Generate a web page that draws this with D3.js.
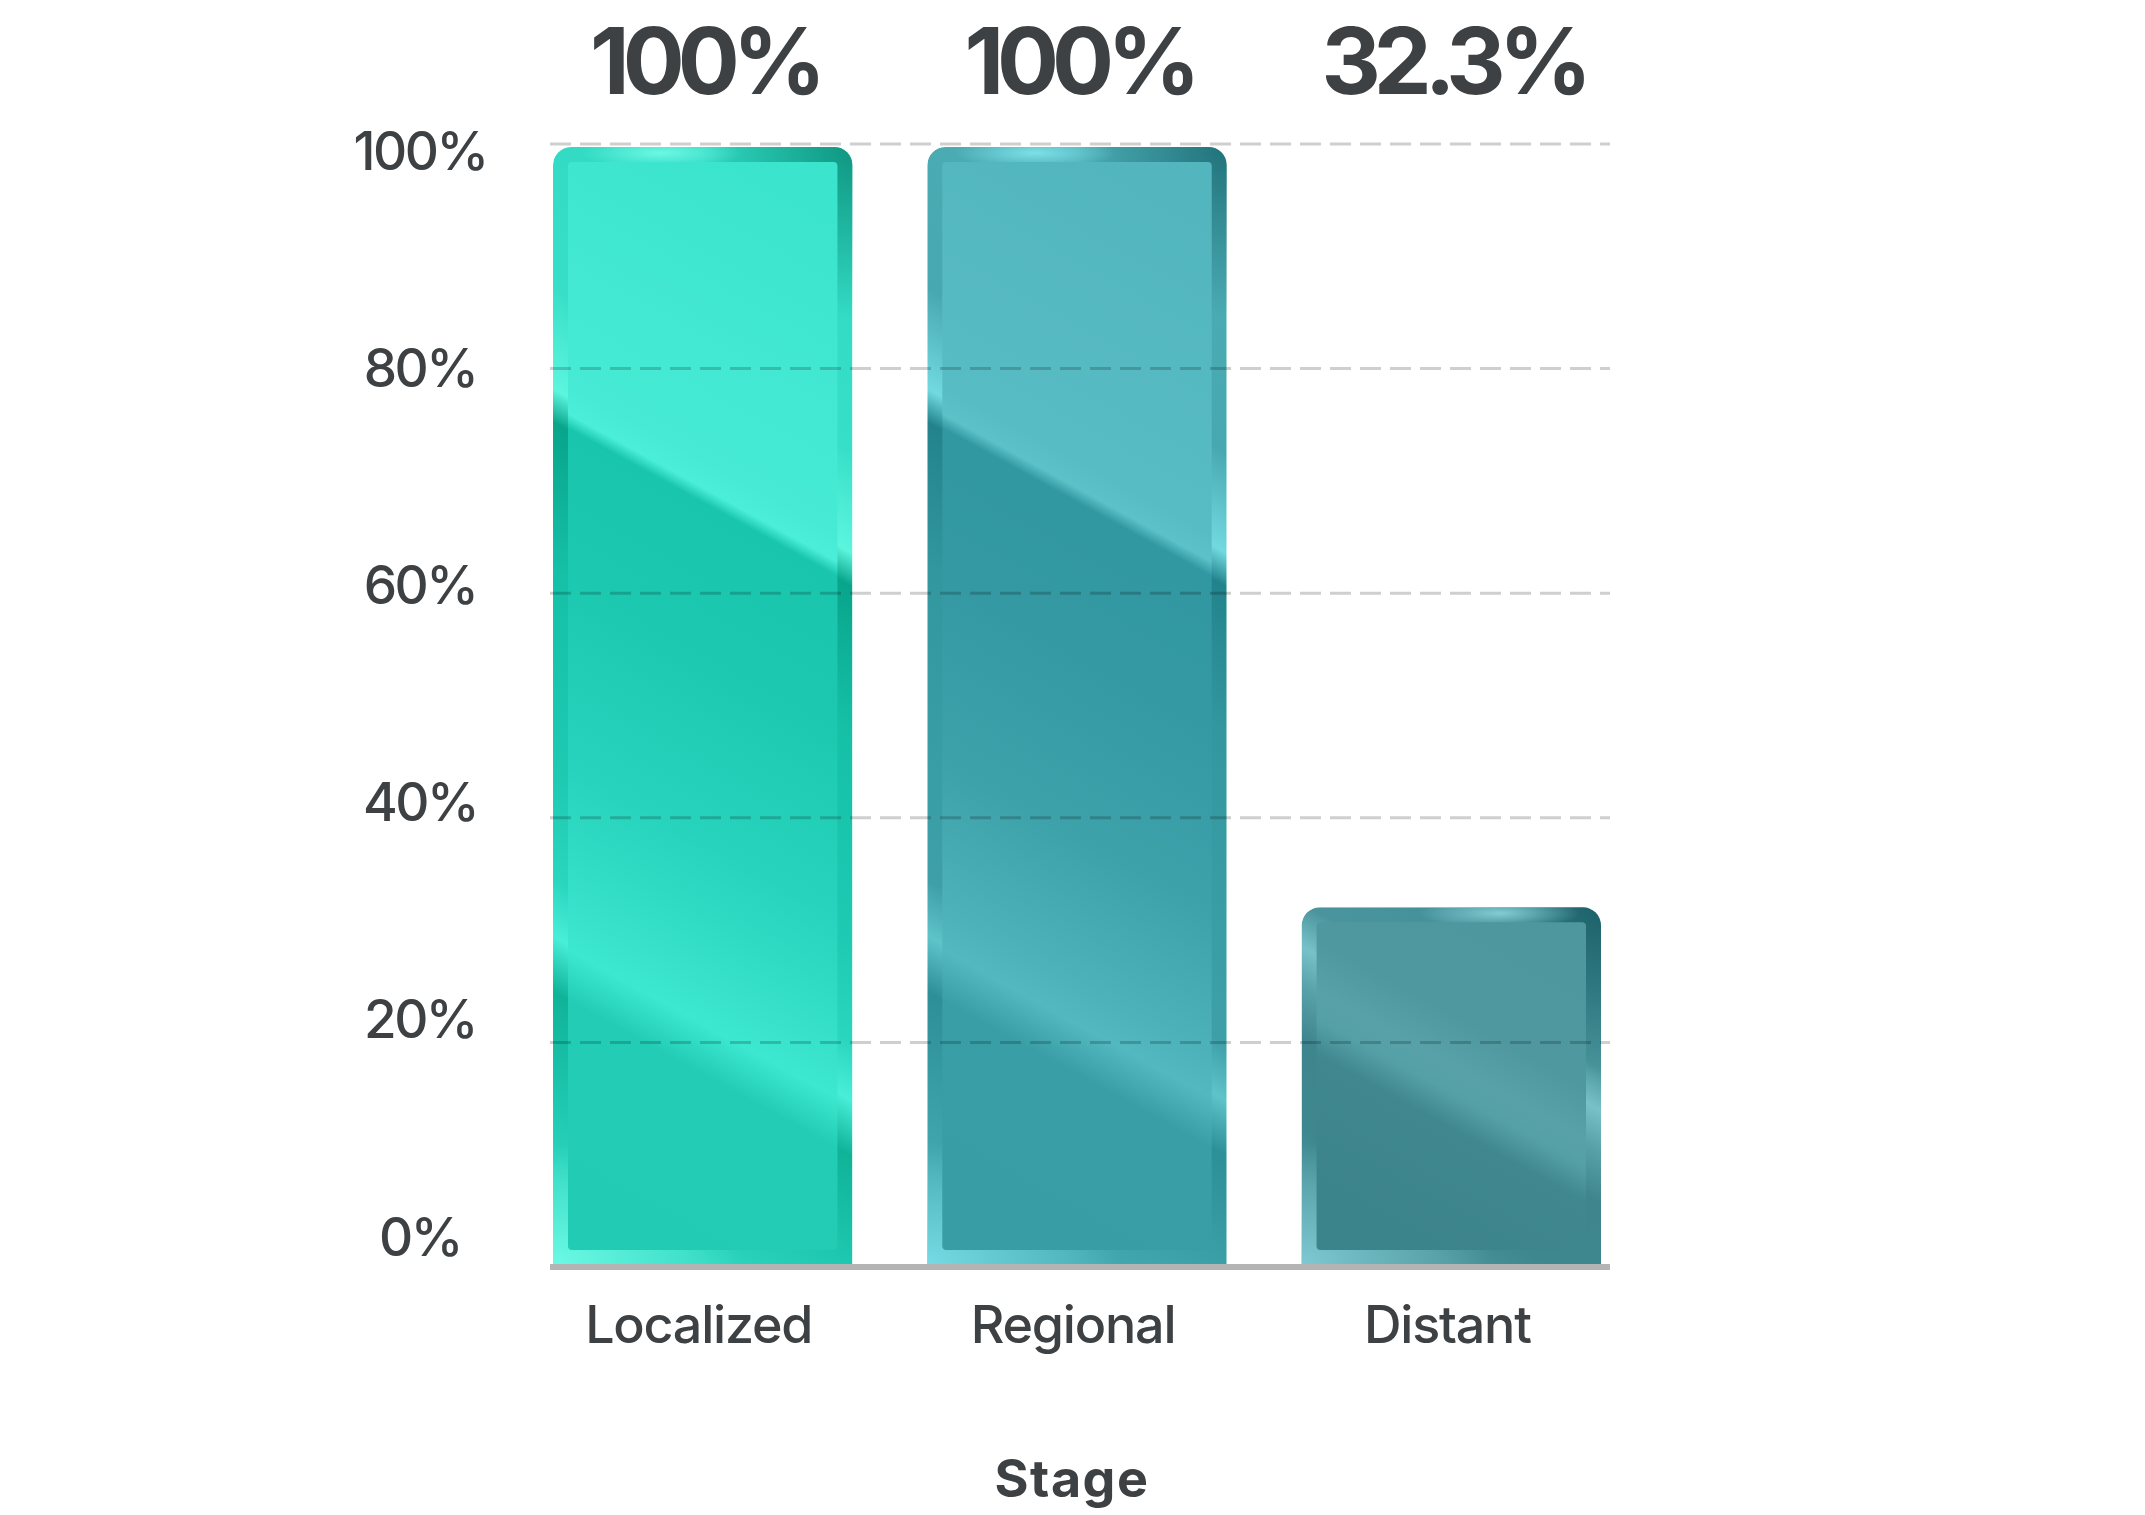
<!DOCTYPE html>
<html><head><meta charset="utf-8">
<script src="https://cdn.jsdelivr.net/npm/d3@7"></script>
<style>
html,body{margin:0;padding:0;background:#fff;}
svg{display:block;font-family:Inter,"Noto Sans",sans-serif;}
</style>
</head><body>
<svg id="chart" width="2145" height="1515"></svg>
<script>
// ---- data ----
const categories = ["Localized", "Regional", "Distant"];
const values = [100, 100, 32.3];
const valueLabels = ["100%", "100%", "32.3%"];
const yTicks = [0, 20, 40, 60, 80, 100];
const yTickLabels = ["0%", "20%", "40%", "60%", "80%", "100%"];
const xTitle = "Stage";

// ---- styles ----
const textColor = "#3d4143";
const barStyles = [
  { inner: [[0,"#3be4cd"],[0.28,"#47ebd5"],[0.305,"#4beed8"],[0.318,"#19c6ad"],[0.45,"#1cc9b0"],[0.62,"#27d3bc"],[0.75,"#38e2cb"],[0.785,"#3de8d0"],[0.83,"#23cdb5"],[1,"#21cbb4"]],
    frame: [[0,"#30d8c2"],[0.2,"#38dfc8"],[0.29,"#5cf5de"],[0.32,"#08a58b"],[0.45,"#15c0a7"],[0.64,"#1ecab2"],[0.73,"#2bd6bf"],[0.78,"#48eed8"],[0.83,"#0fb398"],[0.92,"#1dc6ae"],[1,"#2ed6bf"]],
    hi: "#6ffae6", hiPos: 0.36, lo: "#04806b", glow: "#6ffbe6" },
  { inner: [[0,"#53b6be"],[0.28,"#58bcc4"],[0.305,"#5cc1c8"],[0.318,"#3197a1"],[0.45,"#3499a3"],[0.62,"#3da2aa"],[0.75,"#4db2ba"],[0.785,"#53b8bf"],[0.83,"#3a9ea6"],[1,"#399da5"]],
    frame: [[0,"#4cadb5"],[0.2,"#48a8b1"],[0.29,"#72d9e1"],[0.32,"#22838d"],[0.45,"#33979f"],[0.64,"#3a9ea6"],[0.73,"#3e9fa8"],[0.78,"#5fc3ca"],[0.83,"#2d8f98"],[0.92,"#3a9ea6"],[1,"#47aab2"]],
    hi: "#80e3ea", hiPos: 0.36, lo: "#135f67", glow: "#78dde6" },
  { inner: [[0,"#4e979f"],[0.3,"#4f98a0"],[0.44,"#58a1a9"],[0.52,"#55a0a7"],[0.62,"#40878f"],[1,"#3c848c"]],
    frame: [[0,"#44909a"],[0.22,"#4a959d"],[0.34,"#78c1c9"],[0.45,"#5aa2aa"],[0.6,"#3e858d"],[0.85,"#3f878f"],[1,"#4a939b"]],
    hi: "#88d0d8", hiPos: 0.66, lo: "#0f525a", glow: "#80cbd4" }
];
const slope = 0.55;       // tilt of the glossy bands
const inset = 15;         // bevel width
const radius = 18;

// ---- scales ----
const svg = d3.select("#chart");
const x = d3.scaleBand().domain(categories).range([553, 1601]).paddingInner(0.2).paddingOuter(0);
const y = d3.scaleLinear().domain([0, 100]).range([1267, 144]);
const yLabel = d3.scaleLinear().domain([0, 100]).range([1255, 169]);

const defs = svg.append("defs");

function topRounded(x0, y0, w, h, r) {
  return `M${x0},${y0 + h} V${y0 + r} A${r},${r} 0 0 1 ${x0 + r},${y0} H${x0 + w - r} A${r},${r} 0 0 1 ${x0 + w},${y0 + r} V${y0 + h} Z`;
}
function bandGradient(id, stops, cx, top, h) {
  const L = h / (1 + slope * slope);
  const g = defs.append("linearGradient").attr("id", id).attr("gradientUnits", "userSpaceOnUse")
    .attr("x1", cx).attr("y1", top).attr("x2", cx - slope * L).attr("y2", top + L);
  stops.forEach(s => g.append("stop").attr("offset", s[0]).attr("stop-color", s[1]));
}
function radial(id, color, op) {
  const g = defs.append("radialGradient").attr("id", id);
  g.append("stop").attr("offset", 0).attr("stop-color", color).attr("stop-opacity", op);
  g.append("stop").attr("offset", 1).attr("stop-color", color).attr("stop-opacity", 0);
}

// ---- bars ----
const bars = svg.append("g");
categories.forEach((c, i) => {
  const st = barStyles[i];
  const x0 = x(c), w = x.bandwidth();
  const top = y(values[i]) + 3, bottom = y(0) - 3, h = bottom - top;
  const cx = x0 + w / 2;
  bandGradient("inner" + i, st.inner, cx, top, h);
  bandGradient("frame" + i, st.frame, cx, top, h);
  radial("hi" + i, st.hi, 0.95);
  radial("lo" + i, st.lo, 0.75);
  radial("glow" + i, st.glow, 0.95);
  defs.append("clipPath").attr("id", "clip" + i).append("path").attr("d", topRounded(x0, top, w, h, radius));

  const g = bars.append("g").attr("clip-path", `url(#clip${i})`);
  g.append("path").attr("d", topRounded(x0, top, w, h, radius)).attr("fill", `url(#frame${i})`);
  g.append("ellipse").attr("cx", x0).attr("cy", bottom).attr("rx", 190).attr("ry", 120).attr("fill", `url(#glow${i})`);
  g.append("ellipse").attr("cx", x0 + w).attr("cy", top).attr("rx", 150).attr("ry", 170).attr("fill", `url(#lo${i})`);
  g.append("ellipse").attr("cx", x0 + w * st.hiPos).attr("cy", top + 6).attr("rx", 80).attr("ry", 16).attr("fill", `url(#hi${i})`);
  g.append("rect").attr("x", x0 + inset).attr("y", top + inset)
    .attr("width", w - 2 * inset).attr("height", h - inset - 14).attr("rx", 4)
    .attr("fill", `url(#inner${i})`);
});

// ---- baseline ----
svg.append("rect").attr("x", 550).attr("y", y(0) - 3).attr("width", 1060).attr("height", 6).attr("fill", "#b4b4b4");

// ---- grid lines (drawn over bars) ----
svg.append("g").selectAll("line").data(yTicks.filter(t => t > 0)).join("line")
  .attr("x1", 550).attr("x2", 1610)
  .attr("y1", d => y(d)).attr("y2", d => y(d))
  .attr("stroke", "rgba(0,0,0,0.19)").attr("stroke-width", 3).attr("stroke-dasharray", "21 9");

// ---- y axis labels ----
const yAxis = svg.append("g").attr("transform", "translate(420,0)")
  .call(d3.axisLeft(yLabel).tickValues(yTicks).tickFormat((d, i) => yTickLabels[i]).tickSize(0));
yAxis.select(".domain").remove();
yAxis.selectAll("text").attr("x", 0).attr("dy", 0).attr("text-anchor", "middle")
  .attr("fill", textColor).style("font-size", "53px").style("font-family", "Inter").style("font-weight", 500).attr("letter-spacing", "-2.5");

// ---- x axis labels ----
const xAxis = svg.append("g").attr("transform", "translate(0,1343)")
  .call(d3.axisBottom(x).tickSize(0));
xAxis.select(".domain").remove();
xAxis.selectAll("text").attr("x", -4).attr("y", 0).attr("dy", 0).attr("text-anchor", "middle")
  .attr("fill", textColor).style("font-size", "52px").style("font-family", "Inter").style("font-weight", 500).attr("letter-spacing", "-1.2");

// ---- value labels ----
svg.append("g").selectAll("text").data(categories).join("text")
  .attr("x", d => x(d) + x.bandwidth() / 2 + 2).attr("y", 94)
  .attr("text-anchor", "middle").attr("fill", textColor)
  .style("font-size", "92px").style("font-weight", 700).attr("letter-spacing", "-7")
  .text((d, i) => valueLabels[i]);

// ---- axis title ----
svg.append("text").attr("x", (x.range()[0] + x.range()[1]) / 2 - 5).attr("y", 1497)
  .attr("text-anchor", "middle").attr("fill", textColor)
  .style("font-size", "52px").style("font-weight", 700).attr("letter-spacing", "1.5")
  .text(xTitle);
</script>
</body></html>
